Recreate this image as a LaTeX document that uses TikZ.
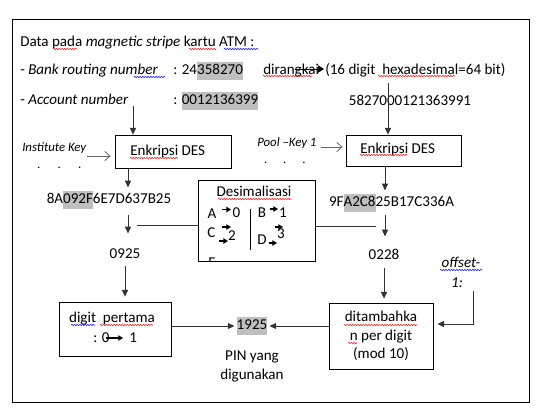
\documentclass[tikz,border=0pt]{standalone}
\usepackage{fontspec}
\setmainfont{Carlito}
\usetikzlibrary{arrows.meta,decorations.pathmorphing,calc}
\definecolor{hlgray}{RGB}{191,191,191}
\definecolor{lnc}{RGB}{50,50,50}
\newcommand{\mainsz}{\fontsize{11.3pt}{13.6pt}\selectfont}
\newcommand{\hlt}[1]{{\setlength{\fboxsep}{0pt}\colorbox{hlgray}{\strut #1}}}
\begin{document}
\begin{tikzpicture}[x=0.75pt,y=-0.75pt,
  t/.style={inner sep=0pt, text height=7.5pt, text depth=2pt, font=\mainsz},
  ts/.style={inner sep=0pt, text height=6.5pt, text depth=1.5pt, font=\fontsize{9.6pt}{11pt}\selectfont\itshape},
  bx/.style={draw=black, line width=0.6pt, inner sep=0pt},
  arr/.style={draw=lnc, line width=0.75pt, -{Triangle[length=5pt,width=4.5pt]}},
  ln/.style={draw=lnc, line width=0.75pt},
  sarr/.style={line width=0.9pt, -{Triangle[length=3.5pt,width=4pt]}},
  oarr/.style={draw=black!60, line width=0.6pt, -{Straight Barb[length=4pt,width=7pt]}},
  sqr/.style={draw=red, line width=0.4pt, decorate, decoration={snake, amplitude=0.45pt, segment length=2pt}},
  sqb/.style={sqr, draw=blue}]
\useasboundingbox (0,0) rectangle (539,412);
\draw[line width=0.75pt] (12,19) rectangle (529,402);

% header text
\node[t, anchor=west] (title) at (20,43) {Data pada \textit{magnetic stripe} kartu ATM :};
\node[t, anchor=west] (brn) at (20,71) {- \textit{Bank routing number}};
\node[t, anchor=west] (brnv) at (173,71) {: 24\hlt{358270}};
\node[t, anchor=west] (dir) at (263,71) {dirangkai};
\node[t, anchor=west] (hex) at (325,71) {(16 digit\ \ hexadesimal=64 bit)};
\node[t, anchor=west] (acc) at (20,101) {- \textit{Account number}};
\node[t, anchor=west] (accv) at (173,101) {: \hlt{0012136399}};
\node[t] (conc) at (410,102) {5827000121363991};
\draw[line width=0.6pt, -{Triangle[length=4.5pt,width=5.5pt]}] ($(dir.east)+(-24,-2)$) -- ($(hex.west)+(-1,-2)$);

% encryption boxes
\node[bx, minimum width=87pt, minimum height=24.75pt] (enkL) at (173,151.5) {};
\node[t, anchor=west] (enkLt) at (130,152) {Enkripsi DES};
\node[bx, minimum width=86.25pt, minimum height=23.25pt] (enkR) at (403.5,150.5) {};
\node[t, anchor=west] (enkRt) at (360,150) {Enkripsi DES};

\node[ts, anchor=west] (ik) at (22,148) {Institute Key};
\node[ts, anchor=west] (ikd) at (37,165) {.\hspace{13pt}.\hspace{13pt}.};
\draw[oarr] ($(ik.east)+(1,8)$) -- ($(enkL.west)+(-4,4.5)$);
\node[ts, anchor=west] (pk) at (257,143) {Pool –Key 1};
\node[ts, anchor=west] (pkd) at (264,160) {.\hspace{12pt}.\hspace{12pt}.};
\draw[oarr] ($(pk.east)+(4,4)$) -- ($(enkR.west)+(-3,-3.5)$);

\coordinate (lt) at (133,106);
\draw[arr] (lt) -- (lt |- enkL.north);
\coordinate (rt) at (388,83);
\draw[arr] (rt) -- (rt |- enkR.north);

% hex results
\node[t] (h1) at (109,200) {8A\hlt{092F}6E7D637B25};
\node[t] (h2) at (391.5,203) {9F\hlt{A2C8}25B17C336A};
\draw[arr] ($(enkL.south)+(-45,0)$) -- ($(h1.north)+(19,-6)$);
\draw[arr] ($(enkR.south)+(-18.5,0)$) -- ($(h2.north)+(-6.5,-6)$);

% desimalisasi
\node[bx, minimum width=87.75pt, minimum height=60.75pt] (des) at (256.5,220.5) {};
\node[t] (dest) at (254,193) {Desimalisasi};
\coordinate (dl) at (137,225);
\draw[ln] (des.west |- dl) -- (dl);
\coordinate (dr) at (376,226);
\draw[ln] (des.east |- dr) -- (dr);
\node[t] (dA) at (212,215) {A};
\draw[sarr] (222,209.5) -- (231,209.5);
\node[t] (d0) at (236.5,214) {0};
\draw[line width=0.6pt] (250,209) -- (250,250);
\node[t] (dB) at (262,214) {B};
\draw[sarr] (270,209) -- (278,209);
\node[t] (d1) at (283,214) {1};
\node[t] (dC) at (211.5,234) {C};
\draw[sarr] (222,227) -- (231,227);
\draw[sarr] (275,227) -- (283,227);
\draw[sarr] (219,241) -- (228,241);
\node[t] (d2) at (232,237) {2};
\node[t] (dD) at (262,241) {D};
\draw[sarr] (269,243) -- (277,243);
\node[t] (d3) at (281,235) {3};
\begin{scope}
\clip ($(des.south west)+(1,-1)$) rectangle ($(des.north east)+(-1,1)$);
\node[t] (dE) at (212,264) {E};
\end{scope}

% numbers
\node[t] (n1) at (125,255) {0925};
\node[t] (n2) at (384,256) {0228};
\draw[arr] ($(h1.south)+(19,8)$) -- ($(n1.north)+(3,-15)$);
\draw[arr] ($(h2.south)+(-6.5,5)$) -- ($(n2.north)+(1,-13)$);

% digit box
\node[bx, minimum width=84pt, minimum height=40.5pt] (dig) at (115,329) {};
\node[t] (dg1) at (112,319) {digit\ \ pertama};
\node[t, anchor=west] (dg2) at (93,339) {: 0};
\node[t, anchor=west] (dg3) at (129,339) {1};
\draw[sarr] ($(dg2.east)+(-4,-1)$) -- ($(dg3.west)+(-6,-1)$);
\draw[arr] ($(n1.south)+(0,4)$) -- ($(n1.south |- dig.north)+(0,-5)$);

% tambah box
\node[bx, minimum width=78pt, minimum height=49.5pt, align=center, font=\fontsize{11.3pt}{13.9pt}\selectfont] (tam) at (381,336) {ditambahka\\n per digit\\(mod 10)};
\draw[arr] ($(n2.south)+(0,5)$) -- ($(n2.south |- tam.north)+(0,-4)$);

% PIN
\node[t] (pin) at (252,326) {\hlt{1925}};
\node[t] (pinl1) at (252,357) {PIN yang};
\node[t] (pinl2) at (252,376) {digunakan};
\draw[arr] (dig.east |- pin) -- ($(pin.west)+(-2,0)$);
\draw[arr] (tam.west |- pin) -- ($(pin.east)+(2,0)$);

% offset
\node[t, font=\mainsz\itshape] (of1) at (461,264) {offset-};
\node[t, font=\mainsz\itshape] (of2) at (457,284) {1:};
\coordinate (ofc) at (473,291);
\draw[arr] (ofc) |- ($(tam.east)+(4,-12)$);

% spelling marks
\draw[sqr] (53,49) -- (77,49);
\draw[sqr] (189,49) -- (216,49);
\draw[sqb] (224,49) -- (258,49);
\draw[sqb] (134,77) -- (165,77);
\draw[sqr] (263,76) -- (312,76);
\draw[sqr] (378,76) -- (455,76);
\draw[sqr] (130,158) -- (178,158);
\draw[sqr] (360,155) -- (407,155);
\draw[sqr] (218,199) -- (291,199);
\draw[sqb] (440,270) -- (482,270);
\draw[sqr] (344,325) -- (417,325);
\draw[sqr] (348,343) -- (357,343);
\draw[sqb] (71,325) -- (95,325);
\draw[sqr] (100,325) -- (153,325);
\end{tikzpicture}
\end{document}
